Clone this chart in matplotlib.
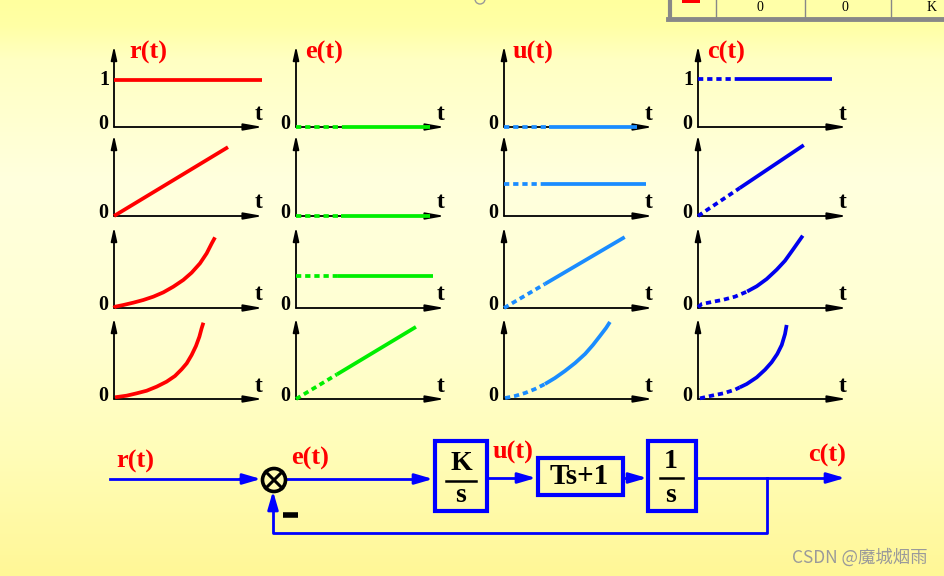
import numpy as np
import matplotlib
matplotlib.use("Agg")
import matplotlib.pyplot as plt
from matplotlib.patches import Circle, Rectangle

plt.rcParams['lines.scale_dashes'] = False

W, H = 945, 576

# ---------------- data (mini plots: t in 0..10 along axis, value 0..10 up axis) -------------
col_names = ["r(t)", "e(t)", "u(t)", "c(t)"]
col_colors = ["#ff0000", "#00ee00", "#1a8cff", "#0000ee"]

# row 1: unit step input
r1_t = [0, 9.9];  r1_v = [5.8, 5.8]
e1_t = [0, 9.0];  e1_v = [0, 0]
u1_t = [0, 8.9];  u1_v = [0, 0]
c1_t = [0, 9.0];  c1_v = [5.9, 5.9]
# row 2: ramp input
r2_t = [0, 7.65]; r2_v = [0, 8.5]
e2_t = [0, 9.0];  e2_v = [0, 0]
u2_t = [0, 9.5];  u2_v = [3.95, 3.95]
c2_t = [0, 7.1];  c2_v = [0, 8.75]
# row 3: parabolic input
r3_t = [0, 0.07, 0.63, 1.3, 1.97, 2.64, 3.31, 3.98, 4.65, 5.21, 5.77, 6.22, 6.56, 6.78]
r3_v = [0, 0.16, 0.37, 0.66, 0.99, 1.4, 1.93, 2.63, 3.46, 4.36, 5.51, 6.75, 7.98, 8.72]
e3_t = [0, 9.2];  e3_v = [3.95, 3.95]
u3_t = [0, 8.1];  u3_v = [0, 8.75]
c3_t = [0, 0.25, 1.03, 1.7, 2.48, 3.27, 3.94, 4.61, 5.28, 5.84, 6.4, 7.03]
c3_v = [0.1, 0.49, 0.78, 1.02, 1.4, 2.01, 2.68, 3.58, 4.73, 5.84, 7.28, 8.93]
# row 4: cubic input
r4_t = [0.07, 0.85, 1.52, 2.19, 2.86, 3.53, 4.09, 4.54, 4.88, 5.21, 5.5, 5.73, 5.88, 6.0]
r4_v = [0.21, 0.41, 0.70, 1.02, 1.52, 2.14, 2.84, 3.67, 4.4, 5.43, 6.54, 7.69, 8.72, 9.42]
e4_t = [0, 8.05]; e4_v = [0, 8.9]
u4_t = [0.07, 0.74, 1.41, 2.08, 2.75, 3.42, 4.09, 4.77, 5.44, 5.97, 6.44, 6.85, 7.11]
u4_v = [0.12, 0.37, 0.74, 1.23, 1.85, 2.59, 3.46, 4.44, 5.56, 6.67, 7.78, 8.77, 9.51]
c4_t = [0.13, 0.92, 1.7, 2.48, 3.27, 3.94, 4.5, 4.94, 5.32, 5.62, 5.84, 5.95]
c4_v = [0.08, 0.41, 0.7, 1.15, 1.85, 2.67, 3.62, 4.53, 5.56, 6.67, 8.02, 9.14]

series = [
    [(r1_t, r1_v), (e1_t, e1_v), (u1_t, u1_v), (c1_t, c1_v)],
    [(r2_t, r2_v), (e2_t, e2_v), (u2_t, u2_v), (c2_t, c2_v)],
    [(r3_t, r3_v), (e3_t, e3_v), (u3_t, u3_v), (c3_t, c3_v)],
    [(r4_t, r4_v), (e4_t, e4_v), (u4_t, u4_v), (c4_t, c4_v)],
]
# end of dashed (transient) part for each cell, None = fully solid
dash_end = [
    [None, 3.1, 3.0, 2.75],
    [None, 3.0, 2.55, 2.8],
    [None, 2.8, 2.75, 3.3],
    [None, 2.75, 2.75, 2.8],
]
one_label_rows = {0: [0, 3]}  # cells with a "1" tick label (row: cols)
one_value = 5.85

# ---------------- layout (pixels) ----------------
col_x0 = [114, 296, 504, 698]
col_x1 = [263, 445, 653, 847]
row_yb = [127, 216, 308, 399]
row_h = 81

fig = plt.figure(figsize=(W / 100, H / 100), dpi=100)

# background + diagram axes in pixel coordinates
dg = fig.add_axes([0, 0, 1, 1])
dg.set_xlim(0, W)
dg.set_ylim(H, 0)
dg.axis('off')

ys = np.array([0, 25, 60, 180, 330, 450, 576])
cr = np.array([255, 255, 255, 255, 255, 255, 255])
cg = np.array([255, 255, 255, 255, 255, 253, 247])
cb = np.array([158, 165, 195, 222, 210, 185, 150])
yy = np.arange(H)
grad = np.stack([np.interp(yy, ys, cr), np.interp(yy, ys, cg), np.interp(yy, ys, cb)], axis=1) / 255.0
img = np.repeat(grad[:, None, :], 2, axis=1)
dg.imshow(img, extent=(0, W, H, 0), aspect='auto', zorder=0, interpolation='bilinear')

bold_serif = dict(family='Liberation Serif', weight='bold')

# ---------------- mini plots ----------------
for r in range(4):
    for c in range(4):
        x0, x1 = col_x0[c], col_x1[c]
        yb = row_yb[r]
        ax = fig.add_axes([x0 / W, 1 - yb / H, (x1 - x0) / W, row_h / H])
        ax.set_facecolor('none')
        ax.set_xlim(0, 10)
        ax.set_ylim(0, 10)
        for s in ax.spines.values():
            s.set_visible(False)
        ax.set_xticks([])
        ax.set_yticks([])
        # axes with arrows
        ax.annotate('', xy=(1.0, 0), xytext=(0, 0), xycoords='axes fraction',
                    arrowprops=dict(arrowstyle='-|>,head_length=1.4,head_width=0.25',
                                    color='black', lw=1.3, mutation_scale=8,
                                    shrinkA=0, shrinkB=0), annotation_clip=False)
        ax.annotate('', xy=(0, 1.0), xytext=(0, 0), xycoords='axes fraction',
                    arrowprops=dict(arrowstyle='-|>,head_length=1.0,head_width=0.22',
                                    color='black', lw=1.3, mutation_scale=8,
                                    shrinkA=0, shrinkB=0), annotation_clip=False)
        t, v = series[r][c]
        t = np.asarray(t, float)
        v = np.asarray(v, float)
        col = col_colors[c]
        de = dash_end[r][c]
        if de is None:
            ax.plot(t, v, color=col, lw=2.7, solid_capstyle='butt', solid_joinstyle='round',
                    clip_on=False, zorder=3)
        else:
            vs = np.interp(de, t, v)
            m1 = t < de
            td = np.concatenate([t[m1], [de]]); vd = np.concatenate([v[m1], [vs]])
            m2 = t > de
            ts = np.concatenate([[de], t[m2]]); vsol = np.concatenate([[vs], v[m2]])
            ax.plot(td, vd, color=col, lw=2.7, linestyle=(0, (3.8, 2.8)),
                    dash_capstyle='butt', clip_on=False, zorder=3)
            ax.plot(ts, vsol, color=col, lw=2.7, solid_capstyle='butt', solid_joinstyle='round',
                    clip_on=False, zorder=3)
        # labels in pixel coords on the diagram axes
        dg.text(x0 - 11, yb - 3, "0", ha='center', va='center', fontsize=14.5, zorder=5, **bold_serif)
        dg.text(x1 - 4, yb - 13, "t", ha='center', va='center', fontsize=17, zorder=5, **bold_serif)
        if r in one_label_rows and c in one_label_rows[r]:
            py = yb - one_value * row_h / 10
            dg.text(x0 - 10, py, "1", ha='center', va='center', fontsize=14.5, zorder=5, **bold_serif)
        if r == 0:
            dg.text(x0 + (15 if c == 0 else 9), 52, col_names[c], ha='left', va='center',
                    fontsize=19, color='#ff0000', zorder=5, **bold_serif)

# ---------------- block diagram ----------------
blue = '#0000ff'
lw_line = 2.0
lw_box = 3.0


def arrow(xs, ys_, xe, ye):
    dg.annotate('', xy=(xe, ye), xytext=(xs, ys_), xycoords='data',
                arrowprops=dict(arrowstyle='-|>,head_length=1.2,head_width=0.35',
                                color=blue, lw=lw_line, mutation_scale=9,
                                shrinkA=0, shrinkB=0), zorder=4)


yl = 479
# r(t) input
dg.plot([110, 250], [yl, yl], color=blue, lw=lw_line, zorder=4)
arrow(240, yl, 261, yl)
# summing junction
sx, sy, sr = 274, 480, 11.5
dg.add_patch(Circle((sx, sy), sr, fill=False, ec='black', lw=2.6, zorder=5))
d = sr * 0.72
dg.plot([sx - d, sx + d], [sy - d, sy + d], color='black', lw=2.2, zorder=5)
dg.plot([sx - d, sx + d], [sy + d, sy - d], color='black', lw=2.2, zorder=5)
# e(t)
dg.plot([sx + sr, 420], [yl, yl], color=blue, lw=lw_line, zorder=4)
arrow(415, yl, 433, yl)
# K/s box
dg.add_patch(Rectangle((435, 441), 52, 70, fill=False, ec=blue, lw=lw_box, zorder=5))
dg.text(461, 464, "K", ha='center', va='center', fontsize=20, zorder=5, **bold_serif)
dg.plot([446, 476], [481, 481], color='black', lw=1.8, zorder=5)
dg.text(461, 496, "s", ha='center', va='center', fontsize=20, zorder=5, **bold_serif)
# u(t)
dg.plot([487, 525], [478, 478], color=blue, lw=lw_line, zorder=4)
arrow(518, 478, 536, 478)
# Ts+1 box
dg.add_patch(Rectangle((538, 458), 85, 37, fill=False, ec=blue, lw=lw_box, zorder=5))
dg.text(579, 476, "Ts+1", ha='center', va='center', fontsize=21, zorder=5, **bold_serif)
# to 1/s
dg.plot([625, 640], [478, 478], color=blue, lw=lw_line, zorder=4)
arrow(630, 478, 647, 478)
# 1/s box
dg.add_patch(Rectangle((648, 441), 48, 70, fill=False, ec=blue, lw=lw_box, zorder=5))
dg.text(671, 461, "1", ha='center', va='center', fontsize=20, zorder=5, **bold_serif)
dg.plot([660, 683], [478, 478], color='black', lw=1.8, zorder=5)
dg.text(671, 495, "s", ha='center', va='center', fontsize=20, zorder=5, **bold_serif)
# output
dg.plot([696, 830], [478, 478], color=blue, lw=lw_line, zorder=4)
arrow(825, 478, 845, 478)
# feedback path
dg.plot([767, 767, 273, 273], [478, 533, 533, 500], color=blue, lw=lw_line, zorder=4)
arrow(273, 503, 273, 491)
# minus sign
dg.plot([283, 298], [515, 515], color='black', lw=4, solid_capstyle='butt', zorder=5)

# signal labels
lab = dict(color='#ff0000', fontsize=19, zorder=5, ha='center', va='center', **bold_serif)
dg.text(135, 461, "r(t)", **lab)
dg.text(310, 458, "e(t)", **lab)
dg.text(513, 452, "u(t)", **lab)
dg.text(827, 455, "c(t)", **lab)

# ---------------- partial table at top right ----------------
gray = '#888888'
dg.plot([669.5, 669.5], [0, 19], color=gray, lw=3, zorder=5)
dg.plot([668, W], [18.5, 18.5], color=gray, lw=3.5, zorder=5)
for xv in [716, 805, 891]:
    dg.plot([xv, xv], [0, 17], color=gray, lw=1, zorder=5)
dg.add_patch(Rectangle((671, 0), W - 671, 17, fc='#ffffa8', ec='none', zorder=4))
dg.add_patch(Rectangle((682, 0), 18, 3, fc='#ff0000', ec='none', zorder=5))
for xv, s in [(760, "0"), (845, "0"), (932, "K")]:
    dg.text(xv, 1, s, ha='center', va='top', fontsize=10, family='Liberation Serif', zorder=5)
dg.add_patch(Circle((480, -1), 5, fill=False, ec='#999999', lw=1, zorder=5, clip_on=True))

# watermark
dg.text(860, 557, "CSDN @魔城烟雨", ha='center', va='center', fontsize=12.5, color='#9a9a9a',
        family=['Noto Sans CJK SC', 'DejaVu Sans'], zorder=5)

fig.savefig("out.png", dpi=100)
